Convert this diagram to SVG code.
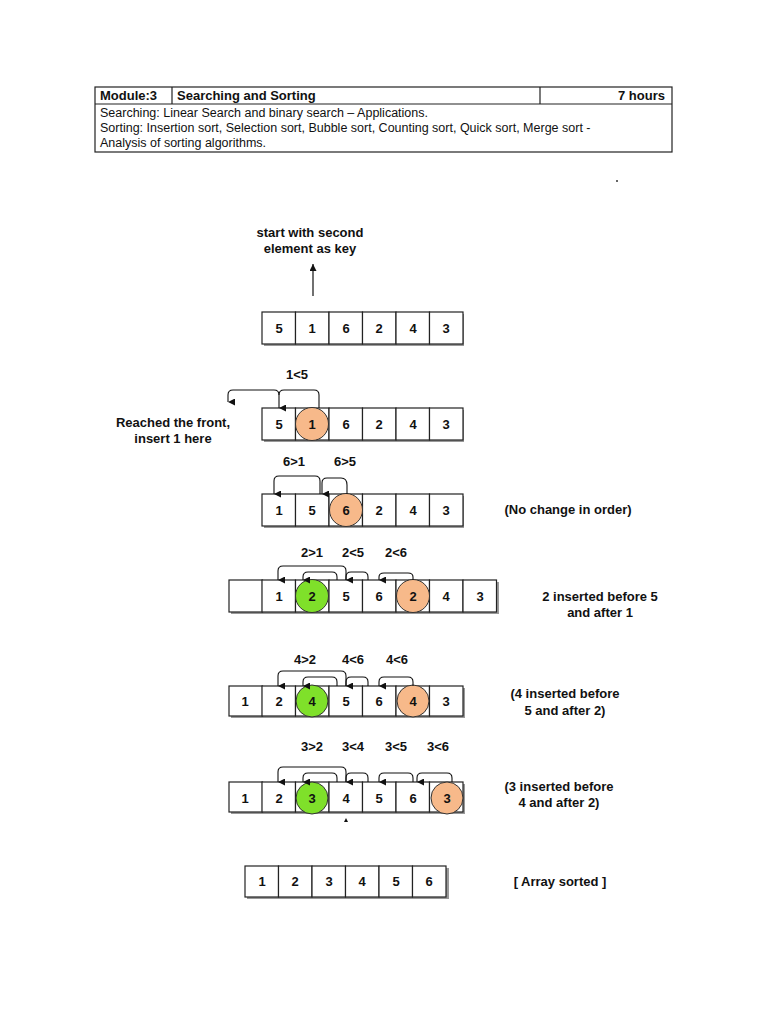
<svg xmlns="http://www.w3.org/2000/svg" width="768" height="1024" viewBox="0 0 768 1024">
<defs>
<marker id="ah" viewBox="0 0 8 8" refX="4" refY="8" markerWidth="7" markerHeight="7" orient="auto-start-reverse" markerUnits="userSpaceOnUse"><path d="M0,0 L8,0 L4,8 Z" fill="#111"/></marker>
<marker id="up" viewBox="0 0 8 8" refX="4" refY="0" markerWidth="7" markerHeight="7" markerUnits="userSpaceOnUse"><path d="M4,0 L8,8 L0,8 Z" fill="#111"/></marker>
</defs>
<style>
text{font-family:"Liberation Sans",Arial,sans-serif;fill:#111}
.b{font-weight:bold;font-size:13px}
.c{font-weight:bold;font-size:13px;text-anchor:middle}
.h{font-size:12.5px}
.cell{fill:#fff;stroke:#222;stroke-width:1.2}
.sh{fill:#999}
.or{fill:#f7b98a;stroke:#333;stroke-width:1}
.gr{fill:#7fe02a;stroke:#333;stroke-width:1}
.ar{fill:none;stroke:#111;stroke-width:1.1;marker-end:url(#ah)}
.tb{fill:none;stroke:#222;stroke-width:1.2}
</style>
<rect width="768" height="1024" fill="#fff"/>
<g id="table">
<rect x="95" y="87" width="577" height="65" class="tb"/>
<line x1="95" y1="104" x2="672" y2="104" class="tb"/>
<line x1="172" y1="87" x2="172" y2="104" class="tb"/>
<line x1="540" y1="87" x2="540" y2="104" class="tb"/>
<text x="100" y="100" class="b">Module:3</text>
<text x="177" y="100" class="b">Searching and Sorting</text>
<text x="665" y="100" class="b" text-anchor="end">7 hours</text>
<text x="100" y="117" class="h">Searching: Linear Search and binary search – Applications.</text>
<text x="100" y="132" class="h">Sorting: Insertion sort, Selection sort, Bubble sort, Counting sort, Quick sort, Merge sort -</text>
<text x="100" y="147" class="h">Analysis of sorting algorithms.</text>
</g>
<circle cx="617" cy="181" r="1" fill="#333"/>
<g id="start">
<text x="310" y="237" class="c">start with second</text>
<text x="310" y="253" class="c">element as key</text>
<line x1="313" y1="296" x2="313" y2="264" stroke="#111" stroke-width="1.2" marker-end="url(#up)"/>
</g>
<g id="row1">
<rect x="264" y="314" width="200" height="32" class="sh"/>
<rect x="262" y="312" width="33.5" height="32" class="cell"/><rect x="295.5" y="312" width="33.5" height="32" class="cell"/><rect x="329" y="312" width="33.5" height="32" class="cell"/><rect x="362.5" y="312" width="33.5" height="32" class="cell"/><rect x="396" y="312" width="33.5" height="32" class="cell"/><rect x="429.5" y="312" width="33.5" height="32" class="cell"/>
<text x="279" y="333" class="c">5</text><text x="312" y="333" class="c">1</text><text x="346" y="333" class="c">6</text><text x="379" y="333" class="c">2</text><text x="413" y="333" class="c">4</text><text x="446" y="333" class="c">3</text>
</g>
<g id="row2">
<rect x="264" y="410" width="200" height="32" class="sh"/>
<rect x="262" y="408" width="33.5" height="32" class="cell"/><rect x="295.5" y="408" width="33.5" height="32" class="cell"/><rect x="329" y="408" width="33.5" height="32" class="cell"/><rect x="362.5" y="408" width="33.5" height="32" class="cell"/><rect x="396" y="408" width="33.5" height="32" class="cell"/><rect x="429.5" y="408" width="33.5" height="32" class="cell"/>
<circle cx="312" cy="424" r="16.5" class="or"/>
<text x="279" y="429" class="c">5</text><text x="312" y="429" class="c">1</text><text x="346" y="429" class="c">6</text><text x="379" y="429" class="c">2</text><text x="413" y="429" class="c">4</text><text x="446" y="429" class="c">3</text>
<text x="297" y="379" class="c">1&lt;5</text>
<text x="173" y="427" class="c">Reached the front,</text>
<text x="173" y="443" class="c">insert 1 here</text>
</g>
<g id="row3">
<rect x="264" y="496" width="200" height="32" class="sh"/>
<rect x="262" y="494" width="33.5" height="32" class="cell"/><rect x="295.5" y="494" width="33.5" height="32" class="cell"/><rect x="329" y="494" width="33.5" height="32" class="cell"/><rect x="362.5" y="494" width="33.5" height="32" class="cell"/><rect x="396" y="494" width="33.5" height="32" class="cell"/><rect x="429.5" y="494" width="33.5" height="32" class="cell"/>
<circle cx="346" cy="510" r="16.5" class="or"/>
<text x="279" y="515" class="c">1</text><text x="312" y="515" class="c">5</text><text x="346" y="515" class="c">6</text><text x="379" y="515" class="c">2</text><text x="413" y="515" class="c">4</text><text x="446" y="515" class="c">3</text>
<text x="294" y="466" class="c">6&gt;1</text><text x="345" y="466" class="c">6&gt;5</text>
<text x="568" y="514" class="c">(No change in order)</text>
</g>
<g id="row4">
<rect x="231" y="582" width="268" height="32" class="sh"/>
<rect x="229" y="580" width="33.5" height="32" class="cell"/><rect x="262" y="580" width="33.5" height="32" class="cell"/><rect x="295.5" y="580" width="33.5" height="32" class="cell"/><rect x="329" y="580" width="33.5" height="32" class="cell"/><rect x="362.5" y="580" width="33.5" height="32" class="cell"/><rect x="396" y="580" width="33.5" height="32" class="cell"/><rect x="429.5" y="580" width="33.5" height="32" class="cell"/><rect x="463" y="580" width="33.5" height="32" class="cell"/>
<circle cx="312" cy="596" r="16.5" class="gr"/><circle cx="413" cy="596" r="16.5" class="or"/>
<text x="279" y="601" class="c">1</text><text x="312" y="601" class="c">2</text><text x="346" y="601" class="c">5</text><text x="379" y="601" class="c">6</text><text x="413" y="601" class="c">2</text><text x="446" y="601" class="c">4</text><text x="480" y="601" class="c">3</text>
<text x="312" y="557" class="c">2&gt;1</text><text x="353" y="557" class="c">2&lt;5</text><text x="396" y="557" class="c">2&lt;6</text>
<text x="600" y="601" class="c">2 inserted before 5</text><text x="600" y="617" class="c">and after 1</text>
</g>
<g id="row5">
<rect x="231" y="688" width="234" height="30" class="sh"/>
<rect x="229" y="686" width="33.5" height="30" class="cell"/><rect x="262" y="686" width="33.5" height="30" class="cell"/><rect x="295.5" y="686" width="33.5" height="30" class="cell"/><rect x="329" y="686" width="33.5" height="30" class="cell"/><rect x="362.5" y="686" width="33.5" height="30" class="cell"/><rect x="396" y="686" width="33.5" height="30" class="cell"/><rect x="429.5" y="686" width="33.5" height="30" class="cell"/>
<circle cx="312" cy="701" r="16" class="gr"/><circle cx="413" cy="701" r="16" class="or"/>
<text x="245" y="706" class="c">1</text><text x="279" y="706" class="c">2</text><text x="312" y="706" class="c">4</text><text x="346" y="706" class="c">5</text><text x="379" y="706" class="c">6</text><text x="413" y="706" class="c">4</text><text x="446" y="706" class="c">3</text>
<text x="305" y="664" class="c">4&gt;2</text><text x="353" y="664" class="c">4&lt;6</text><text x="397" y="664" class="c">4&lt;6</text>
<text x="565" y="698" class="c">(4 inserted before</text><text x="565" y="715" class="c">5 and after 2)</text>
</g>
<g id="row6">
<rect x="231" y="784" width="234" height="30" class="sh"/>
<rect x="229" y="782" width="33.5" height="30" class="cell"/><rect x="262" y="782" width="33.5" height="30" class="cell"/><rect x="295.5" y="782" width="33.5" height="30" class="cell"/><rect x="329" y="782" width="33.5" height="30" class="cell"/><rect x="362.5" y="782" width="33.5" height="30" class="cell"/><rect x="396" y="782" width="33.5" height="30" class="cell"/><rect x="429.5" y="782" width="33.5" height="30" class="cell"/>
<circle cx="312" cy="798" r="16" class="gr"/><circle cx="447" cy="798" r="16" class="or"/>
<text x="245" y="803" class="c">1</text><text x="279" y="803" class="c">2</text><text x="312" y="803" class="c">3</text><text x="346" y="803" class="c">4</text><text x="379" y="803" class="c">5</text><text x="413" y="803" class="c">6</text><text x="447" y="803" class="c">3</text>
<path d="M344,822 L346,818 L348,822 Z" fill="#111"/>
<text x="312" y="751" class="c">3&gt;2</text><text x="353" y="751" class="c">3&lt;4</text><text x="396" y="751" class="c">3&lt;5</text><text x="438" y="751" class="c">3&lt;6</text>
<text x="559" y="791" class="c">(3 inserted before</text><text x="559" y="807" class="c">4 and after 2)</text>
</g>
<g id="row7">
<rect x="247" y="868" width="202" height="31" class="sh"/>
<rect x="245" y="866" width="33.5" height="31" class="cell"/><rect x="278.5" y="866" width="33.5" height="31" class="cell"/><rect x="312" y="866" width="33.5" height="31" class="cell"/><rect x="345.5" y="866" width="33.5" height="31" class="cell"/><rect x="379" y="866" width="33.5" height="31" class="cell"/><rect x="412.5" y="866" width="33.5" height="31" class="cell"/>
<text x="262" y="886" class="c">1</text><text x="295" y="886" class="c">2</text><text x="329" y="886" class="c">3</text><text x="362" y="886" class="c">4</text><text x="396" y="886" class="c">5</text><text x="429" y="886" class="c">6</text>
<text x="560" y="886" class="c">[ Array sorted ]</text>
</g>
<g id="connectors">
<path class="ar" d="M319,408 V395 Q319,390 314,390 H284 Q279,390 279,395 V408"/>
<path class="ar" d="M279,395 Q279,390 274,390 H233 Q228,390 228,395 V402"/>
<path class="ar" d="M347,494 V485 Q347,478 341,478 H327 Q322,478 322,483 V494"/>
<path class="ar" d="M320,494 V481 Q320,476 315,476 H279 Q274,476 274,481 V494"/>
<path class="ar" d="M346,580 V571 Q346,566 341,566 H283 Q278,566 278,571 V580"/>
<path class="ar" d="M337,580 V577 Q337,572 332,572 H308 Q303,572 303,577 V580"/>
<path class="ar" d="M368,580 V577 Q368,572 363,572 H351 Q346,572 346,577 V580"/>
<path class="ar" d="M413,580 V577 Q413,573 408,573 H384 Q379,573 379,577 V580"/>
<path class="ar" d="M346,686 V676 Q346,671 341,671 H283 Q278,671 278,676 V686"/>
<path class="ar" d="M337,686 V682 Q337,677 332,677 H308 Q303,677 303,682 V686"/>
<path class="ar" d="M368,686 V682 Q368,677 363,677 H351 Q346,677 346,682 V686"/>
<path class="ar" d="M413,686 V682 Q413,677 408,677 H384 Q379,677 379,682 V686"/>
<path class="ar" d="M346,782 V772 Q346,767 341,767 H283 Q278,767 278,772 V782"/>
<path class="ar" d="M337,782 V778 Q337,773 332,773 H308 Q303,773 303,778 V782"/>
<path class="ar" d="M368,782 V778 Q368,773 363,773 H351 Q346,773 346,778 V782"/>
<path class="ar" d="M413,782 V778 Q413,773 408,773 H384 Q379,773 379,778 V782"/>
<path class="ar" d="M452,782 V778 Q452,773 447,773 H422 Q417,773 417,778 V782"/>
</g>
</svg>
